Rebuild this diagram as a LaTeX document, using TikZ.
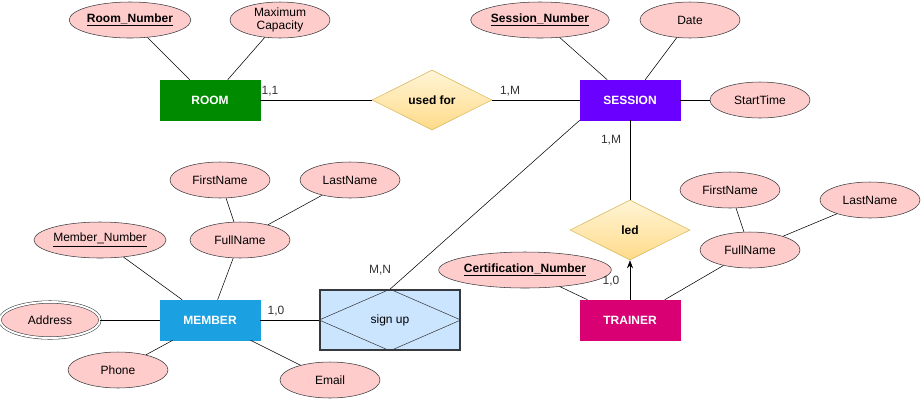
\documentclass[tikz,border=0pt]{standalone}
\usepackage{fontspec}
\setmainfont{Liberation Sans}
\usetikzlibrary{shapes.geometric,arrows.meta}
\definecolor{attrfill}{HTML}{FFCCCC}
\definecolor{attrline}{HTML}{36393D}
\definecolor{roomc}{HTML}{008A00}
\definecolor{sessc}{HTML}{6A00FF}
\definecolor{memc}{HTML}{1BA1E2}
\definecolor{trainc}{HTML}{D80073}
\definecolor{relfill}{HTML}{FFE599}
\definecolor{relline}{HTML}{D6B656}
\definecolor{weakfill}{HTML}{CCE5FF}
\begin{document}
\begin{tikzpicture}[x=0.75pt,y=-0.75pt,font=\fontsize{9}{10}\selectfont,
  attr/.style={ellipse,draw=attrline,fill=attrfill,minimum width=75pt,minimum height=27pt,inner sep=0pt,align=center},
  key/.style={attr,font=\fontsize{9}{10}\selectfont\bfseries},
  ent/.style={rectangle,draw=#1,fill=#1,text=white,font=\fontsize{9}{10}\selectfont\bfseries,minimum width=75pt,minimum height=30pt},
  rel/.style={diamond,aspect=2,draw=relline,top color=relfill!40,bottom color=relfill!90!orange,minimum width=90pt,minimum height=45pt,inner sep=0pt,font=\fontsize{9}{10}\selectfont\bfseries},
  card/.style={font=\fontsize{9}{10}\selectfont,text=black!80}]
\useasboundingbox (0,0) rectangle (921,401);
% entities
\node[ent=roomc] (room) at (210,100) {ROOM};
\node[ent=sessc] (sess) at (630,100) {SESSION};
\node[ent=memc] (mem) at (210,320) {MEMBER};
\node[ent=trainc] (train) at (630,320) {TRAINER};
% relationships
\node[rel] (used) at (432,100) {used for};
\node[rel] (led) at (630,230) {led};
\node[rectangle,draw=attrline,line width=1.2pt,fill=weakfill,minimum width=105pt,minimum height=45pt] (sign) at (390,320) {};
\draw[attrline] (sign.west) -- (sign.north) -- (sign.east) -- (sign.south) -- cycle;
\node at (sign.center) {sign up};
% attributes
\node[key] (rn) at (130,20) {\underline{Room\_Number}};
\node[attr] (mc) at (280,20) {Maximum\\Capacity};
\node[key] (sn) at (540,20) {\underline{Session\_Number}};
\node[attr] (date) at (690,20) {Date};
\node[attr] (st) at (760,100) {StartTime};
\node[key,minimum width=97pt] (cn) at (525,270) {\underline{Certification\_Number}};
\node[attr] (tfull) at (750,250) {FullName};
\node[attr] (tfirst) at (730,190) {FirstName};
\node[attr] (tlast) at (870,200) {LastName};
\node[attr] (mn) at (100,240) {\underline{Member\_Number}};
\node[attr] (mfirst) at (220,180) {FirstName};
\node[attr] (mlast) at (350,180) {LastName};
\node[attr] (mfull) at (240,240) {FullName};
\node[attr,double,double distance=1.5pt] (addr) at (50,320) {Address};
\node[attr] (phone) at (118,370) {Phone};
\node[attr] (email) at (330,380) {Email};
% connectors
\begin{scope}[draw=black]
\draw (rn) -- (room); \draw (mc) -- (room);
\draw (sn) -- (sess); \draw (date) -- (sess); \draw (st) -- (sess);
\draw (room) -- (used); \draw (used) -- (sess);
\draw (sess.south west) -- (sign.north);
\draw (sess) -- (led);
\draw[-{Stealth[length=6pt]}] (train) -- (led);
\draw (cn) -- (train); \draw (tfull) -- (train);
\draw (tfirst) -- (tfull); \draw (tlast) -- (tfull);
\draw (mem) -- (sign);
\draw (mn) -- (mem); \draw (mfull) -- (mem);
\draw (mfirst) -- (mfull); \draw (mlast) -- (mfull);
\draw (addr) -- (mem); \draw (phone) -- (mem); \draw (email) -- (mem);
\end{scope}
% cardinalities
\node[card] at (270,91) {1,1};
\node[card] at (510,91) {1,M};
\node[card] at (611,140) {1,M};
\node[card] at (380,270) {M,N};
\node[card] at (276,311) {1,0};
\node[card] at (611,281) {1,0};
\end{tikzpicture}
\end{document}
